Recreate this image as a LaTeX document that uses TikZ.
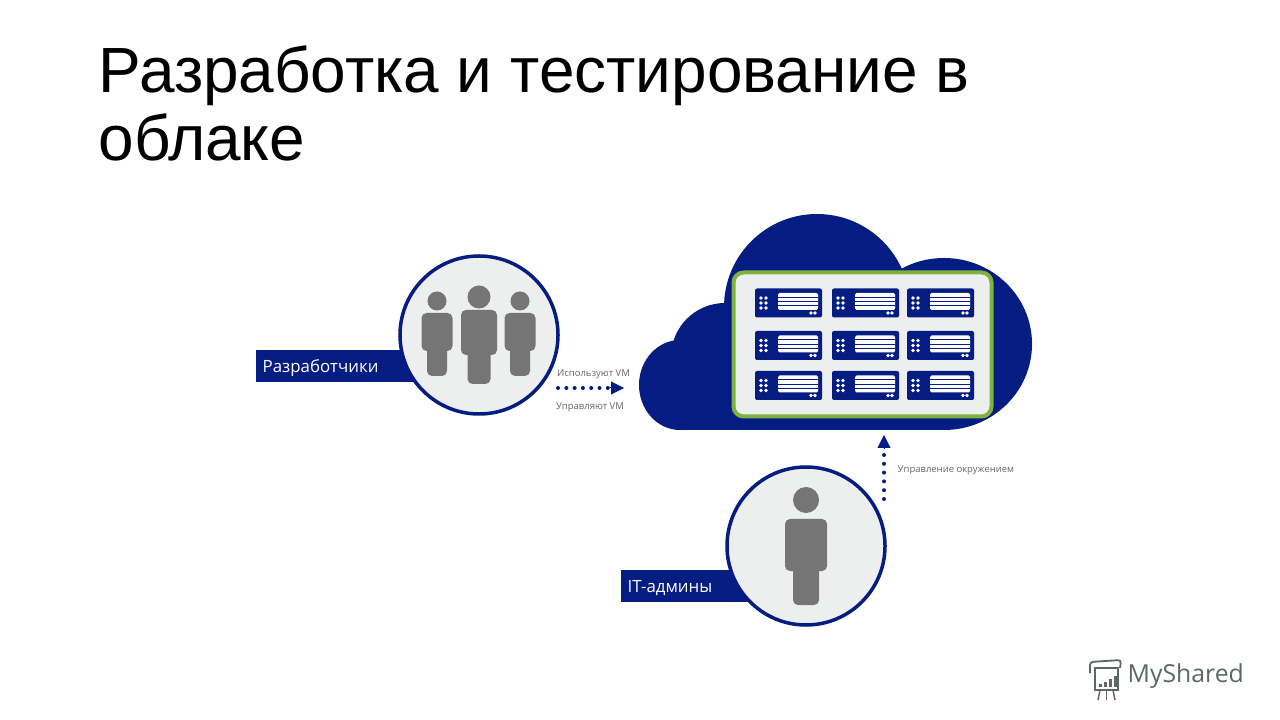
\documentclass[tikz,border=0pt]{standalone}
\usepackage{fontspec}
\setmainfont{Liberation Sans}
\newfontfamily\labelfont{Open Sans}
\usetikzlibrary{arrows.meta}
\definecolor{navy}{HTML}{051C82}
\definecolor{figure}{HTML}{757575}
\definecolor{plate}{HTML}{EDEEEE}
\definecolor{frame}{HTML}{7FB13F}
\definecolor{caption}{HTML}{666666}
\definecolor{brand}{HTML}{5C6866}
\tikzset{
	head/.style={shape=circle,fill=figure,inner sep=0,minimum size=#1},
	role/.style={shape=rectangle,fill=navy,text=white,anchor=west,inner sep=0,minimum height=0.32cm,text width=1.7cm,text height=3.6pt,text depth=0pt,font=\labelfont\fontsize{4.8pt}{6pt}\selectfont},
	disc/.style={shape=circle,draw=navy,line width=0.035cm,fill=plate,inner sep=0,minimum size=1.58cm},
	note/.style={text=caption,inner sep=0,font=\labelfont\fontsize{2.7pt}{4pt}\selectfont},
	dots/.style={navy,line width=0.04cm,line cap=round,dash pattern=on 0pt off 0.083cm},
	tip/.style={navy,line width=0.01cm,-{Triangle[length=0.13cm,width=0.13cm]}},
}
% one server of the rack
\newcommand{\server}[2]{
	\begin{scope}[shift={(#1,#2)}]
		\fill[navy,rounded corners=0.02cm] (0,0) rectangle (0.67,-0.29);
		\fill[white,rounded corners=0.015cm] (0.23,-0.045) rectangle (0.63,-0.215);
		\foreach \y in {-0.088,-0.13,-0.172}
			\draw[navy,line width=0.009cm] (0.23,\y) -- (0.63,\y);
		\foreach \y in {-0.095,-0.145,-0.195}
			\foreach \x in {0.06,0.11}
				\fill[white] (\x,\y) circle (0.018);
		\foreach \x in {0.56,0.6}
			\fill[white] (\x,-0.245) circle (0.018);
	\end{scope}
}
% one grey person: neck height, half widths
\newcommand{\person}[6]{
	\fill[figure,rounded corners=0.05cm] (#1-#3,#2) rectangle (#1+#3,#2-#5);
	\fill[figure,rounded corners=0.05cm] (#1-#4,#2-0.5*#5) rectangle (#1+#4,#2-#6);
}
\begin{document}
\begin{tikzpicture}
	\useasboundingbox (0,0) rectangle (12.8,-7.2);
	\fill[white] (0,0) rectangle (12.8,-7.2);
	% title
	\node[anchor=north west,inner sep=0,align=left,font=\fontsize{18.18pt}{19.35pt}\selectfont](title) at (0.98,-0.45){Разработка и тестирование в\\облаке};
	% cloud
	\fill[navy] (8.17,-3.07) circle (0.93);
	\fill[navy] (9.44,-3.44) ellipse (0.88 and 0.86);
	\fill[navy] (7.25,-3.57) circle (0.54);
	\fill[navy] (6.8,-3.85) ellipse (0.41 and 0.45);
	\fill[navy] (6.8,-3.5) rectangle (9.44,-4.3);
	% rack
	\node[shape=rectangle,draw=frame,line width=0.04cm,fill=plate,rounded corners=0.1cm,minimum width=2.58cm,minimum height=1.44cm,inner sep=0](rack) at (8.625,-3.445){};
	\foreach \x in {7.55,8.32,9.07}
		\foreach \y in {-2.885,-3.31,-3.71}
			\server{\x}{\y}
	% developers
	\node[role](devlabel) at (2.55,-3.66){\hspace{0.07cm}Разработчики};
	\node[disc](dev) at (4.79,-3.35){};
	\node[head=0.19cm](devheada) at (4.37,-3.01){};
	\node[head=0.23cm](devheadb) at (4.79,-2.97){};
	\node[head=0.19cm](devheadc) at (5.2,-3.01){};
	\person{4.37}{-3.13}{0.155}{0.1}{0.38}{0.63}
	\person{4.79}{-3.1}{0.18}{0.115}{0.45}{0.74}
	\person{5.2}{-3.13}{0.155}{0.1}{0.38}{0.63}
	% admin
	\node[role](adminlabel) at (6.2,-5.86){\hspace{0.07cm}IT-админы};
	\node[disc](admin) at (8.06,-5.46){};
	\node[head=0.26cm](adminhead) at (8.06,-5.0){};
	\person{8.06}{-5.19}{0.21}{0.13}{0.52}{0.86}
	% connectors
	\coordinate (devstart) at (5.58,-3.88);
	\coordinate (devend) at (6.08,-3.88);
	\coordinate (devfoot) at (6.1,-3.88);
	\coordinate (devtip) at (6.24,-3.88);
	\draw[dots] (devstart) -- (devend);
	\draw[tip] (devfoot) -- (devtip);
	\node[note](uses) at (5.935,-3.74){Используют VM};
	\node[note](runs) at (5.9,-4.07){Управляют VM};
	\coordinate (adminstart) at (8.84,-4.99);
	\coordinate (adminend) at (8.84,-4.54);
	\coordinate (adminfoot) at (8.84,-4.49);
	\coordinate (admintip) at (8.84,-4.35);
	\draw[dots,dash pattern=on 0pt off 0.088cm] (adminstart) -- (adminend);
	\draw[tip] (adminfoot) -- (admintip);
	\node[note,anchor=west](envs) at (8.97,-4.7){Управление окружением};
	% watermark
	\node[anchor=west,inner sep=0,text=brand,font=\labelfont\fontsize{7.05pt}{8pt}\selectfont](mark) at (11.27,-6.76){MyShared};
	\draw[brand,line width=0.018cm] (10.95,-6.68) rectangle (11.18,-6.9);
	\draw[brand,line width=0.018cm,rounded corners=0.03cm] (10.9,-6.73) -- (10.9,-6.62) -- (11.21,-6.6) -- (11.2,-6.68);
	\foreach \x/\h in {10.99/0.03,11.04/0.05,11.09/0.08,11.14/0.11}
		\fill[brand] (\x,-6.87) rectangle (\x+0.03,-6.87+\h);
	\foreach \a/\b in {11.0/10.98,11.065/11.065,11.13/11.15}
		\draw[brand,line width=0.015cm] (\a,-6.9) -- (\b,-7.0);
\end{tikzpicture}
\end{document}
